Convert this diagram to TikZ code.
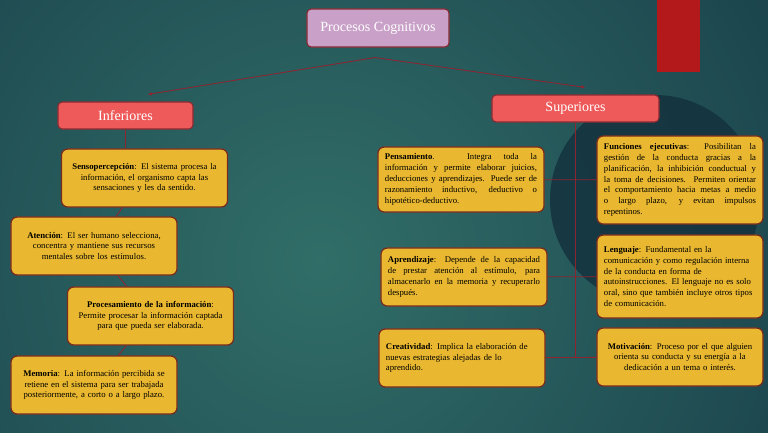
\documentclass[tikz,border=0pt]{standalone}
\usepackage{fontspec}
\setmainfont{Liberation Serif}
\usetikzlibrary{arrows.meta}

\definecolor{bgdark}{HTML}{143644}
\definecolor{bglight}{HTML}{316E68}
\definecolor{boxyellow}{HTML}{E9B830}
\definecolor{boxedge}{HTML}{7A2B1E}
\definecolor{lilac}{HTML}{C9A0C8}
\definecolor{salmon}{HTML}{EE5A5A}
\definecolor{headedge}{HTML}{8A2B33}
\definecolor{linkred}{HTML}{8E2430}
\definecolor{blockred}{HTML}{B3191A}
\definecolor{discdark}{HTML}{13303C}

\begin{document}
\begin{tikzpicture}[x=0.025cm, y=-0.025cm,
  head/.style={draw=headedge, line width=0.8pt, rounded corners=3pt, text=white,
    font=\fontsize{10}{12}\selectfont, inner sep=0pt},
  card/.style={draw=boxedge, fill=boxyellow, line width=0.9pt, rounded corners=4.5pt,
    minimum width=4.15cm, minimum height=1.45cm, text width=3.8cm, inner sep=0pt,
    font=\fontsize{6.2}{7.7}\selectfont},
  link/.style={draw=linkred, line width=0.6pt}]

% Background
\fill[bgdark] (0,0) rectangle (768,433);
\begin{scope}
\clip (0,0) rectangle (768,433);
\fill[inner color=bglight, outer color=bgdark] (320,260) circle (700);
\fill[discdark, opacity=0.8] (655,200) circle (105);
\end{scope}
\fill[blockred] (657,0) rectangle (700,72);

% Headings
\node[head, fill=lilac, minimum width=3.55cm, minimum height=0.95cm] (proc) at (378,28) {Procesos Cognitivos};
\node[head, fill=salmon, minimum width=4.175cm, minimum height=0.675cm] (sup) at (575.5,108.5) {Superiores};
\node[head, fill=salmon, minimum width=3.375cm, minimum height=0.675cm] (inf) at (125.5,115.5) {Inferiores};

% Split arrows
\coordinate (split) at ([xshift=-0.075cm, yshift=-0.25cm]proc.south);
\coordinate (infin) at ([xshift=0.55cm, yshift=0.175cm]inf.north);
\coordinate (supin) at ([xshift=0.25cm, yshift=0.175cm]sup.north);
\draw[link, -{Latex[length=3pt, width=2.5pt]}] (split) -- (infin);
\draw[link, -{Latex[length=3pt, width=2.5pt]}] (split) -- (supin);

% Lower processes
\node[card, align=center] (senso) at (144.5,178) {\textbf{Sensopercepción}: El sistema procesa la\\ información, el organismo capta las\\ sensaciones y les da sentido.};
\node[card, align=center] (aten) at (94,246) {\textbf{Atención}: El ser humano selecciona,\\ concentra y mantiene sus recursos\\ mentales sobre los estímulos.};
\node[card, align=center] (procinfo) at (150.5,316) {\textbf{Procesamiento de la información}:\\ Permite procesar la información captada\\ para que pueda ser elaborada.};
\node[card, align=center] (memo) at (94,385) {\textbf{Memoria}: La información percibida se\\ retiene en el sistema para ser trabajada\\ posteriormente, a corto o a largo plazo.};

\draw[link] (inf.south) -- (inf.south |- senso.north);
\draw[link] (senso) -- (aten);
\draw[link] (aten) -- (procinfo);
\draw[link] (procinfo) -- (memo);

% Higher processes
\node[card, align=justify, minimum height=1.625cm] (pens) at (461,179.5) {\textbf{Pensamiento}. Integra toda la\linebreak información y permite elaborar juicios,\linebreak deducciones y aprendizajes. Puede ser de\linebreak razonamiento inductivo, deductivo o\linebreak hipotético-deductivo.};
\node[card, align=justify] (apre) at (464,277) {\textbf{Aprendizaje}: Depende de la capacidad\linebreak de prestar atención al estímulo, para\linebreak almacenarlo en la memoria y recuperarlo\linebreak después.};
\node[card, align=left] (crea) at (462,358) {\textbf{Creatividad}: Implica la elaboración de\\ nuevas estrategias alejadas de lo\\ aprendido.};
\node[card, align=justify, minimum height=2.2cm] (func) at (680,180) {\textbf{Funciones ejecutivas}: Posibilitan la\linebreak gestión de la conducta gracias a la\linebreak planificación, la inhibición conductual y\linebreak la toma de decisiones. Permiten orientar\linebreak el comportamiento hacia metas a medio\linebreak o largo plazo, y evitan impulsos\linebreak repentinos.};
\node[card, align=left, minimum height=2.075cm] (leng) at (680,276.5) {\textbf{Lenguaje}: Fundamental en la\\ comunicación y como regulación interna\\ de la conducta en forma de\\ autoinstrucciones. El lenguaje no es solo\\ oral, sino que también incluye otros tipos\\ de comunicación.};
\node[card, align=center] (moti) at (680,357) {\textbf{Motivación}: Proceso por el que alguien\\ orienta su conducta y su energía a la\\ dedicación a un tema o interés.};

\coordinate (trunk) at (sup.south |- crea.east);
\draw[link] (sup.south) -- (trunk);
\draw[link] (pens) -- (func);
\draw[link] (apre) -- (leng);
\draw[link] (crea) -- (moti);

\end{tikzpicture}
\end{document}
